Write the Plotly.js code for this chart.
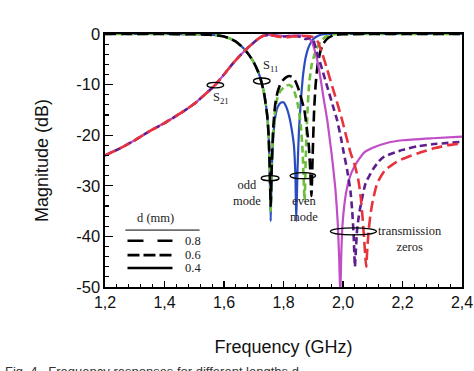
<!DOCTYPE html>
<html>
<head>
<meta charset="utf-8">
<script src="https://cdn.plot.ly/plotly-3.0.1.min.js"></script>
<style>html,body{margin:0;padding:0;background:#fff;}#chart{width:474px;height:371px;}</style>
</head>
<body>
<div id="chart"></div>
<script>
// ---- S11 curves (dB) ----
const fS11_08 = [1.20,1.40,1.50,1.55,1.58,1.60,1.62,1.64,1.66,1.68,1.70,1.715,1.725,1.735,1.745,1.750,1.754,1.757,1.760,1.765,1.772,1.78,1.79,1.80,1.81,1.82,1.83,1.84,1.85,1.86,1.87,1.878,1.885,1.890,1.894,1.898,1.903,1.908,1.915,1.925,1.935,1.95,1.97,2.0,2.2,2.4];
const s11_08  = [0,0,-0.05,-0.15,-0.3,-0.5,-0.9,-1.5,-2.5,-3.8,-5.6,-7.5,-9.3,-11.8,-16,-20,-27,-34,-27,-19,-14,-11.5,-9.8,-9,-8.5,-8.3,-8.5,-9.3,-10.8,-12.8,-15,-18.5,-22,-27,-32,-24,-15,-10,-6,-3.2,-1.8,-0.8,-0.2,-0.05,0,0];

const fS11_06 = [1.20,1.40,1.50,1.55,1.58,1.60,1.62,1.64,1.66,1.68,1.70,1.715,1.725,1.735,1.745,1.750,1.754,1.757,1.760,1.765,1.772,1.78,1.79,1.80,1.81,1.82,1.83,1.84,1.85,1.858,1.864,1.868,1.871,1.875,1.880,1.886,1.895,1.91,1.925,1.94,1.96,2.0,2.2,2.4];
const s11_06  = [0,0,-0.05,-0.15,-0.3,-0.5,-0.9,-1.5,-2.5,-3.8,-5.6,-7.5,-9.3,-11.8,-16,-20,-27,-35,-27,-20,-15,-12.5,-11.2,-10.6,-10.2,-10.1,-10.6,-12,-14.5,-18,-23,-29,-33,-24,-16,-10,-6,-3,-1.5,-0.6,-0.1,0,0,0];

const fS11_04 = [1.20,1.40,1.50,1.55,1.58,1.60,1.62,1.64,1.66,1.68,1.70,1.715,1.725,1.735,1.745,1.750,1.754,1.757,1.760,1.765,1.772,1.78,1.79,1.80,1.81,1.82,1.828,1.835,1.840,1.843,1.847,1.852,1.858,1.866,1.875,1.885,1.90,1.915,1.93,1.95,2.0,2.2,2.4];
const s11_04  = [0,0,-0.05,-0.15,-0.3,-0.5,-0.9,-1.5,-2.5,-3.8,-5.6,-7.5,-9.3,-11.8,-16,-20,-28,-37,-28,-21,-16.5,-14.5,-13.6,-13.5,-14.5,-16.5,-19,-22,-28,-37,-27,-19,-13.5,-8,-4.5,-2.5,-1,-0.4,-0.1,0,0,0,0];

// ---- S21 curves (dB) ----
const fS21_08 = [1.20,1.25,1.30,1.35,1.40,1.45,1.50,1.55,1.57,1.60,1.63,1.65,1.67,1.69,1.71,1.73,1.75,1.78,1.80,1.83,1.86,1.88,1.90,1.915,1.93,1.947,1.964,1.98,1.997,2.01,2.025,2.040,2.052,2.060,2.066,2.071,2.075,2.078,2.082,2.087,2.092,2.10,2.115,2.14,2.171,2.193,2.25,2.305,2.35,2.40];
const s21_08  = [-24,-22.6,-21,-19.2,-17.6,-15.8,-13.8,-11.2,-10.1,-8,-5.8,-4.5,-3.3,-2.2,-1.2,-0.4,-0.2,-0.5,-0.7,-0.5,-0.4,-0.4,-0.6,-1.5,-3.8,-7,-10.4,-13.5,-17,-20,-23.4,-26,-29,-32.5,-36.5,-40.5,-44,-46,-42,-38.5,-35.8,-33,-29.5,-27,-25.6,-24.9,-23.6,-22.6,-22,-21.6];

const fS21_06 = [1.20,1.25,1.30,1.35,1.40,1.45,1.50,1.55,1.57,1.60,1.63,1.65,1.67,1.69,1.71,1.73,1.75,1.78,1.80,1.83,1.86,1.875,1.89,1.90,1.913,1.93,1.947,1.965,1.98,1.993,2.003,2.014,2.025,2.031,2.036,2.040,2.043,2.047,2.052,2.059,2.076,2.10,2.12,2.137,2.20,2.25,2.30,2.40];
const s21_06  = [-24,-22.6,-21,-19.2,-17.6,-15.8,-13.8,-11.2,-10.1,-8,-5.8,-4.5,-3.3,-2.2,-1.2,-0.4,-0.2,-0.4,-0.5,-0.4,-0.6,-1.0,-0.8,-1.2,-3.8,-7,-10.4,-14,-17,-20.5,-23.6,-26.9,-31,-35,-40,-46,-43,-39,-36.5,-34,-29.5,-26.8,-25.2,-24.3,-22.9,-22.2,-21.8,-21.3];

const fS21_04 = [1.20,1.25,1.30,1.35,1.40,1.45,1.50,1.55,1.57,1.60,1.63,1.65,1.67,1.69,1.71,1.73,1.75,1.78,1.80,1.83,1.86,1.88,1.895,1.905,1.913,1.925,1.935,1.947,1.957,1.965,1.975,1.982,1.987,1.991,1.994,1.998,2.004,2.01,2.02,2.04,2.07,2.10,2.15,2.20,2.30,2.40];
const s21_04  = [-24,-22.6,-21,-19.2,-17.6,-15.8,-13.8,-11.2,-10.1,-8,-5.8,-4.5,-3.3,-2.2,-1.2,-0.4,-0.2,-0.3,-0.4,-0.3,-0.3,-0.5,-1.5,-3.2,-5.1,-9,-12.8,-17,-21.5,-25.3,-31,-37,-44,-52,-44,-38,-34,-31.5,-28.8,-26,-23.5,-22.5,-21.5,-21,-20.6,-20.3];

// ---- legend / labels ----
const legendTitle = 'd (mm)';
const legendLabels = ['0.8', '0.6', '0.4'];
const xTickVals = [1.2, 1.4, 1.6, 1.8, 2.0, 2.2, 2.4];
const yTickVals = [0, -10, -20, -30, -40, -50];
const yTickText = ['0', '-10', '-20', '-30', '-40', '-50'];

const serif = 'Liberation Serif, Times New Roman, serif';
const sans = 'Liberation Sans, Arial, sans-serif';

function line(x, y, color, dash, w) {
  return {x: x, y: y, type: 'scatter', mode: 'lines', showlegend: false, hoverinfo: 'skip',
          line: {color: color, width: w || 2.4, dash: dash, shape: 'spline', smoothing: 0.5}};
}

const data = [
  line(fS11_04, s11_04, '#2a4cbf', 'solid', 2.2),
  line(fS11_06, s11_06, '#6cbf3a', '7px,4px', 2.6),
  line(fS11_08, s11_08, '#000000', '11px,5px', 2.6),
  line(fS21_04, s21_04, '#c14ec6', 'solid', 2.2),
  line(fS21_06, s21_06, '#5e1f8e', '7px,4px', 2.6),
  line(fS21_08, s21_08, '#e8333c', '11px,5px', 2.6)
];

// legend drawn with paper-referenced shapes
const legendDash = ['16px,14px', '12px,4px', 'solid'];
const legendY = [0.183, 0.126, 0.075];
const shapes = [
  {type: 'line', xref: 'paper', yref: 'paper', x0: 0.057, x1: 0.265, y0: 0.225, y1: 0.225, line: {color: '#000', width: 1}}
];
legendLabels.forEach((lab, i) => {
  shapes.push({type: 'line', xref: 'paper', yref: 'paper', x0: 0.063, x1: 0.189, y0: legendY[i], y1: legendY[i],
               line: {color: '#000', width: 2.6, dash: legendDash[i]}});
});

// ellipse markers
const ellipses = [
  {cx: 1.571, cy: -10.1, w: 0.056, h: 1.1},
  {cx: 1.727, cy: -9.3, w: 0.056, h: 1.2},
  {cx: 1.755, cy: -28.5, w: 0.060, h: 1.0},
  {cx: 1.865, cy: -28.0, w: 0.086, h: 1.2},
  {cx: 2.035, cy: -39.0, w: 0.155, h: 1.4}
];
ellipses.forEach(e => {
  shapes.push({type: 'circle', xref: 'x', yref: 'y', x0: e.cx - e.w / 2, x1: e.cx + e.w / 2,
               y0: e.cy - e.h / 2, y1: e.cy + e.h / 2, line: {color: '#000', width: 1.3}});
});

const annFont = {family: serif, size: 12.5, color: '#222'};
const annotations = [
  {x: 1.59, y: -12.7, xref: 'x', yref: 'y', text: 'S<sub>21</sub>', showarrow: false, font: annFont},
  {x: 1.755, y: -6.3, xref: 'x', yref: 'y', text: 'S<sub>11</sub>', showarrow: false, font: annFont},
  {x: 1.677, y: -31.4, xref: 'x', yref: 'y', text: 'odd<br>mode', showarrow: false, font: annFont},
  {x: 1.868, y: -34.6, xref: 'x', yref: 'y', text: 'even<br>mode', showarrow: false, font: annFont},
  {x: 2.225, y: -40.6, xref: 'x', yref: 'y', text: 'transmission<br>zeros', showarrow: false, font: annFont},
  {x: 0.141, y: 0.273, xref: 'paper', yref: 'paper', xanchor: 'center', yanchor: 'middle', text: legendTitle, showarrow: false, font: annFont}
];
legendLabels.forEach((lab, i) => {
  annotations.push({x: 0.218, y: legendY[i], xref: 'paper', yref: 'paper', xanchor: 'left', yanchor: 'middle', text: lab,
                    showarrow: false, font: annFont});
});
annotations.push({x: -0.285, y: -0.297, xref: 'paper', yref: 'paper', xanchor: 'left', yanchor: 'top',
                  text: 'Fig. 4.  Frequency responses for different lengths d', showarrow: false,
                  font: {family: sans, size: 13, color: '#333'}});

const layout = {
  width: 474, height: 371,
  margin: {l: 105, r: 12, t: 34, b: 84},
  paper_bgcolor: '#fff', plot_bgcolor: '#fff',
  separators: ',.',
  showlegend: false,
  font: {family: sans, color: '#111'},
  xaxis: {
    range: [1.2, 2.4], tickmode: 'array', tickvals: xTickVals, tickformat: '.1f',
    ticks: 'inside', ticklen: 6, tickwidth: 1.3, tickcolor: '#000',
    minor: {dtick: 0.04, tick0: 1.2, ticks: 'inside', ticklen: 3.5, tickwidth: 1.1, tickcolor: '#000', showgrid: false},
    showline: true, linecolor: '#000', linewidth: 1.6, mirror: true, showgrid: false, zeroline: false,
    tickfont: {family: sans, size: 16, color: '#111'},
    title: {text: 'Frequency (GHz)', font: {family: sans, size: 18, color: '#111'}, standoff: 30}
  },
  yaxis: {
    range: [-50, 0], tickmode: 'array', tickvals: yTickVals, ticktext: yTickText,
    ticks: 'inside', ticklen: 8, tickwidth: 1.3, tickcolor: '#000',
    minor: {dtick: 2, tick0: 0, ticks: 'inside', ticklen: 4, tickwidth: 1.1, tickcolor: '#000', showgrid: false},
    showline: true, linecolor: '#000', linewidth: 1.6, mirror: true, showgrid: false, zeroline: false,
    tickfont: {family: sans, size: 16.5, color: '#111'},
    title: {text: 'Magnitude (dB)', font: {family: sans, size: 18, color: '#111'}, standoff: 23}
  },
  shapes: shapes,
  annotations: annotations
};

Plotly.newPlot('chart', data, layout, {displayModeBar: false, staticPlot: true});
</script>
</body>
</html>
